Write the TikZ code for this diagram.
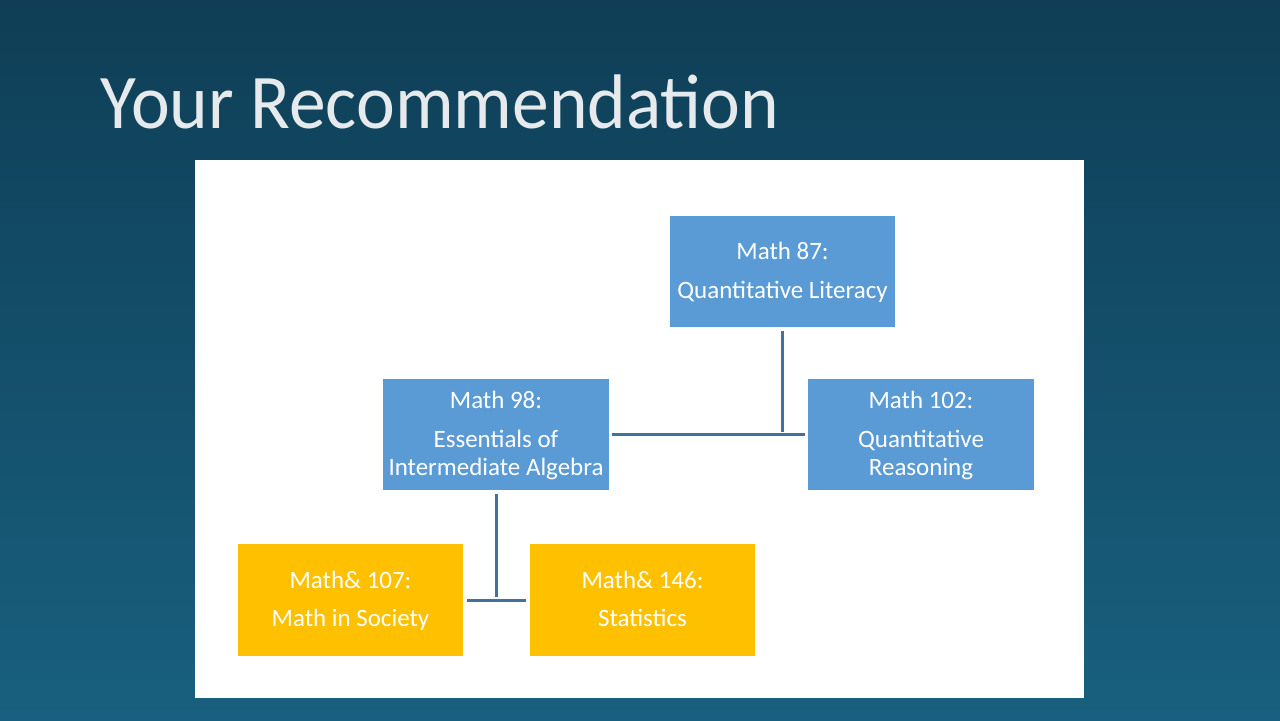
\documentclass[tikz,border=0pt]{standalone}
\usepackage{fontspec}
\setmainfont{Carlito}
\usetikzlibrary{calc}
\definecolor{bgtop}{HTML}{0F3E56}
\definecolor{bgbot}{HTML}{18607F}
\definecolor{boxblue}{HTML}{5B9BD5}
\definecolor{boxgold}{HTML}{FFC000}
\definecolor{linkblue}{HTML}{41719C}
\definecolor{titlegray}{HTML}{E6EAED}
\newcommand{\firstline}{\rule{0pt}{6.6pt}}

\begin{document}
\begin{tikzpicture}[x=0.01cm,y=-0.01cm]
\tikzstyle{course}=[inner sep=0pt, minimum width=2.25cm, minimum height=1.11cm,
  align=center, text=white, font=\fontsize{7.1}{8}\selectfont]
\tikzstyle{blue course}=[course, fill=boxblue]
\tikzstyle{gold course}=[course, fill=boxgold]
\tikzstyle{link}=[linkblue, line width=0.85pt, shorten <=0.8pt, shorten >=0.8pt]
% slide background and white panel
\shade [top color=bgtop, bottom color=bgbot] (0,0) rectangle (1280,720);
\fill [white] (195,160) rectangle (1084,698);
\node (title) [anchor=base west, inner sep=0pt, text=titlegray,
  font=\fontsize{22}{26}\selectfont] at (100,128) {\scalebox{0.95}[1]{Your Recommendation}};
% courses
\node (m87) [blue course] at (782.5,271.5) {\firstline Math 87:\\[3pt] Quantitative Literacy\strut};
\node (m98) [blue course] at (496,434.5) {\firstline Math 98:\\[3pt] Essentials of\\ Intermediate Algebra\strut};
\node (m102) [blue course] at (921,434.5) {\firstline Math 102:\\[3pt] Quantitative\\ Reasoning\strut};
\node (m107) [gold course] at (350.5,600) {\firstline Math\& 107:\\[3pt] Math in Society\strut};
\node (m146) [gold course] at (642.5,600) {\firstline Math\& 146:\\[3pt] Statistics\strut};
% links
\draw [link] (m87.south) -- (m87.south |- m98.east);
\draw [link] (m98.east) -- (m102.west);
\draw [link] (m98.south) -- (m98.south |- m107.east);
\draw [link] (m107.east) -- (m146.west);
\end{tikzpicture}
\end{document}
